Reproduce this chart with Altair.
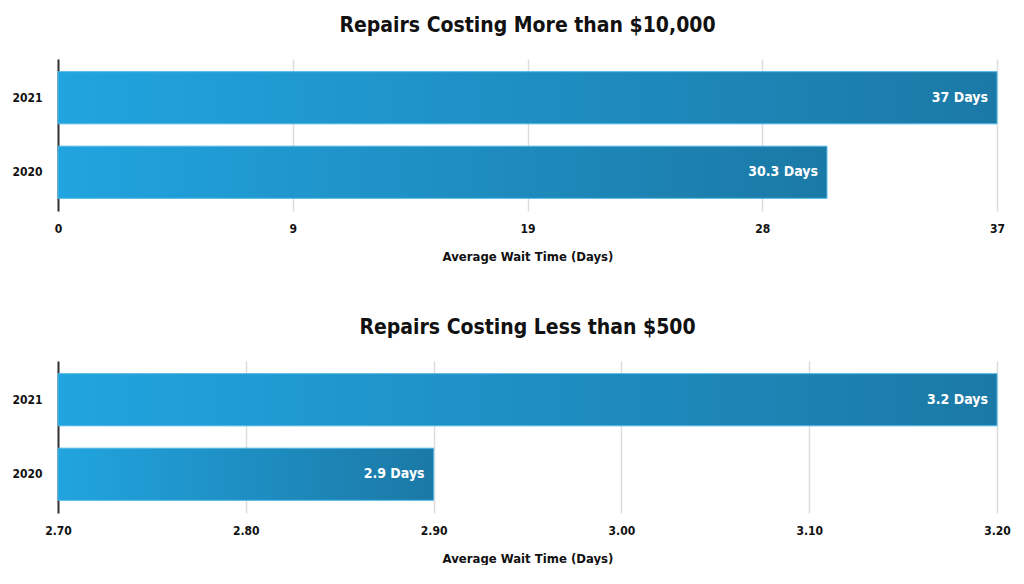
import altair as alt
import pandas as pd

years = ["2021", "2020"]
big_values = [37, 30.3]
big_labels = ["37 Days", "30.3 Days"]
small_values = [3.2, 2.9]
small_labels = ["3.2 Days", "2.9 Days"]
big_ticks = [0, 9.25, 18.5, 27.75, 37]
small_ticks = [2.7, 2.8, 2.9, 3.0, 3.1, 3.2]

FONT = "DejaVu Sans Condensed"
W = 939
H = 152

grad = alt.Gradient(
    gradient="linear",
    stops=[alt.GradientStop(color="#21a4df", offset=0),
           alt.GradientStop(color="#1b79a6", offset=1)],
    x1=0, x2=1, y1=0, y2=0,
)


def panel(values, labels, title, domain, ticks, fmt_expr):
    df = pd.DataFrame({"year": years, "value": values, "label": labels})
    x = alt.X(
        "value:Q",
        scale=alt.Scale(domain=domain, zero=False, nice=False, clamp=True),
        axis=alt.Axis(
            values=ticks, labelExpr=fmt_expr, title="Average Wait Time (Days)",
            domain=False, ticks=False, grid=True, gridColor="#dddddd", gridWidth=1.5,
            labelFont=FONT, labelFontWeight="bold", labelFontSize=12, labelColor="#111111",
            labelPadding=12, titleFont=FONT, titleFontWeight="bold", titleFontSize=13,
            titleColor="#111111", titlePadding=16, labelFlush=False,
        ),
    )
    y = alt.Y(
        "year:N", sort=years,
        scale=alt.Scale(paddingInner=0.3, paddingOuter=0.17),
        axis=alt.Axis(
            title=None, domain=True, domainColor="#333333", domainWidth=2, ticks=False,
            labelFont=FONT, labelFontWeight="bold", labelFontSize=12, labelColor="#111111",
            labelPadding=16, minExtent=50, maxExtent=50,
        ),
    )
    base = alt.Chart(df)
    bars = base.mark_bar(color=grad, stroke="#4fb6e4", strokeWidth=1).encode(
        x=x, x2=alt.datum(domain[0]), y=y
    )
    text = base.mark_text(
        align="right", dx=-9, color="white", font=FONT, fontSize=14, fontWeight="bold"
    ).encode(x="value:Q", y=alt.Y("year:N", sort=years), text="label:N")
    return alt.layer(bars, text).properties(
        width=W, height=H,
        title=alt.TitleParams(title, font=FONT, fontSize=21, fontWeight="bold",
                              color="#111111", offset=23, anchor="middle"),
    )


top = panel(big_values, big_labels, "Repairs Costing More than $10,000",
            [0, 37], big_ticks, "format(round(datum.value), 'd')")
bottom = panel(small_values, small_labels, "Repairs Costing Less than $500",
               [2.7, 3.2], small_ticks, "format(datum.value, '.2f')")

chart = alt.vconcat(top, bottom, spacing=54).properties(
    padding={"left": 0, "top": 7, "right": 5, "bottom": 0}
).configure_view(stroke=None)

chart.save("out.html", embed_options={"renderer": "svg", "actions": False})
